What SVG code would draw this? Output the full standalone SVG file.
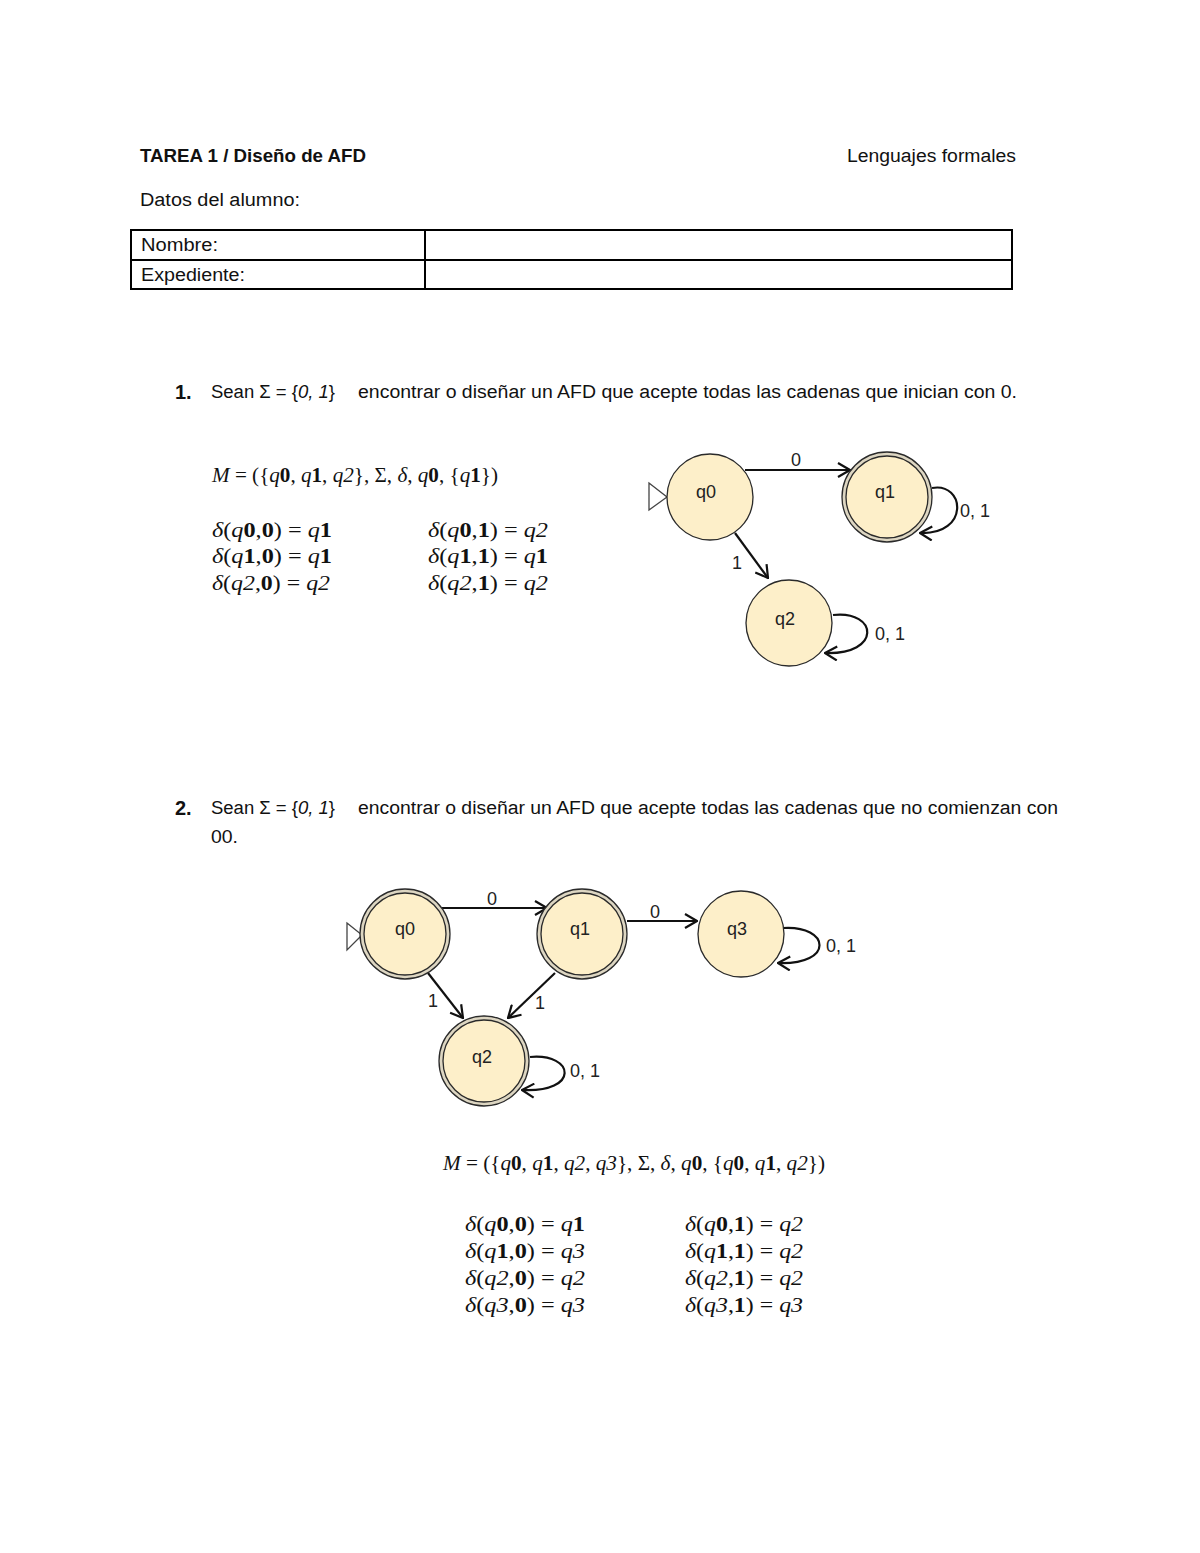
<svg xmlns="http://www.w3.org/2000/svg" width="1200" height="1553" viewBox="0 0 1200 1553">
<style>
.t{font-family:"Liberation Sans",Arial,sans-serif;font-size:18px;fill:#111}
.tb{font-family:"Liberation Sans",Arial,sans-serif;font-size:18px;font-weight:bold;fill:#111}
.num{font-family:"Liberation Sans",Arial,sans-serif;font-size:20px;font-weight:bold;fill:#111}
.m{font-family:"Liberation Serif","Times New Roman",serif;font-size:20px;fill:#111}
.i{font-style:italic}
.b{font-weight:bold}
.nl{font-family:"Liberation Sans",Arial,sans-serif;font-size:18px;fill:#222;text-anchor:middle}
.el{font-family:"Liberation Sans",Arial,sans-serif;font-size:18px;fill:#222}
.node{fill:#fdefc9;stroke:#2a2a2a;stroke-width:1.3}
.ring{fill:#ddd6c2;stroke:#2a2a2a;stroke-width:1.3}
.edge{fill:none;stroke:#111;stroke-width:2.2}
.init{fill:#fff;stroke:#444;stroke-width:1.3}
</style>
<defs>
<marker id="arr" viewBox="0 0 14 16" refX="13" refY="8" markerWidth="14" markerHeight="16" markerUnits="userSpaceOnUse" orient="auto">
<path d="M1,1 L13,8 L1,15" fill="none" stroke="#111" stroke-width="2.2"/>
</marker>
</defs>
<rect width="1200" height="1553" fill="#fff"/>

<g id="header">
<text class="tb" x="140" y="162" textLength="226" lengthAdjust="spacingAndGlyphs">TAREA 1 / Diseño de AFD</text>
<text class="t" x="847" y="162" textLength="169" lengthAdjust="spacingAndGlyphs">Lenguajes formales</text>
<text class="t" x="140" y="206" textLength="160" lengthAdjust="spacingAndGlyphs">Datos del alumno:</text>
</g>

<g id="table">
<rect x="131" y="230" width="881" height="59" fill="none" stroke="#000" stroke-width="2"/>
<line x1="131" y1="260" x2="1012" y2="260" stroke="#000" stroke-width="2"/>
<line x1="425" y1="230" x2="425" y2="289" stroke="#000" stroke-width="2"/>
<text class="t" x="141" y="251" textLength="77" lengthAdjust="spacingAndGlyphs">Nombre:</text>
<text class="t" x="141" y="281" textLength="104" lengthAdjust="spacingAndGlyphs">Expediente:</text>
</g>

<g id="q1-text">
<text class="num" x="175" y="399">1.</text>
<text class="t" x="211" y="398" textLength="124" lengthAdjust="spacingAndGlyphs">Sean Σ = {<tspan class="i">0, 1</tspan>}</text>
<text class="t" x="358" y="398" textLength="659" lengthAdjust="spacingAndGlyphs">encontrar o diseñar un AFD que acepte todas las cadenas que inician con 0.</text>
</g>

<g id="q1-math">
<text class="m" x="212" y="482" textLength="286" lengthAdjust="spacingAndGlyphs"><tspan class="i">M</tspan> = ({<tspan class="i">q</tspan><tspan class="b">0</tspan>, <tspan class="i">q</tspan><tspan class="b">1</tspan>, <tspan class="i">q2</tspan>}, Σ, <tspan class="i">δ</tspan>, <tspan class="i">q</tspan><tspan class="b">0</tspan>, {<tspan class="i">q</tspan><tspan class="b">1</tspan>})</text>
<text class="m" x="212" y="537" textLength="120" lengthAdjust="spacingAndGlyphs"><tspan class="i">δ</tspan>(<tspan class="i">q</tspan><tspan class="b">0</tspan>,<tspan class="b">0</tspan>) = <tspan class="i">q</tspan><tspan class="b">1</tspan></text>
<text class="m" x="428" y="537" textLength="120" lengthAdjust="spacingAndGlyphs"><tspan class="i">δ</tspan>(<tspan class="i">q</tspan><tspan class="b">0</tspan>,<tspan class="b">1</tspan>) = <tspan class="i">q2</tspan></text>
<text class="m" x="212" y="563" textLength="120" lengthAdjust="spacingAndGlyphs"><tspan class="i">δ</tspan>(<tspan class="i">q</tspan><tspan class="b">1</tspan>,<tspan class="b">0</tspan>) = <tspan class="i">q</tspan><tspan class="b">1</tspan></text>
<text class="m" x="428" y="563" textLength="120" lengthAdjust="spacingAndGlyphs"><tspan class="i">δ</tspan>(<tspan class="i">q</tspan><tspan class="b">1</tspan>,<tspan class="b">1</tspan>) = <tspan class="i">q</tspan><tspan class="b">1</tspan></text>
<text class="m" x="212" y="590" textLength="118" lengthAdjust="spacingAndGlyphs"><tspan class="i">δ</tspan>(<tspan class="i">q2</tspan>,<tspan class="b">0</tspan>) = <tspan class="i">q2</tspan></text>
<text class="m" x="428" y="590" textLength="120" lengthAdjust="spacingAndGlyphs"><tspan class="i">δ</tspan>(<tspan class="i">q2</tspan>,<tspan class="b">1</tspan>) = <tspan class="i">q2</tspan></text>
</g>

<g id="d1-edges">
<path class="edge" d="M745,470 L850,470" marker-end="url(#arr)"/>
<path class="edge" d="M735,533 L768,578" marker-end="url(#arr)"/>
<path class="edge" d="M932,488 C965,482 970,535 920,533" marker-end="url(#arr)"/>
<path class="edge" d="M833,615 C878,610 882,655 825,653" marker-end="url(#arr)"/>
<text class="el" x="791" y="466">0</text>
<text class="el" x="732" y="569">1</text>
<text class="el" x="960" y="517">0, 1</text>
<text class="el" x="875" y="640">0, 1</text>
</g>

<g id="d1-q0">
<polygon class="init" points="649,483 667,497 649,510"/>
<circle class="node" cx="710" cy="497" r="43"/>
<text class="nl" x="706" y="498">q0</text>
</g>
<g id="d1-q1">
<circle class="ring" cx="887" cy="497" r="45"/>
<circle class="node" cx="887" cy="497" r="41"/>
<text class="nl" x="885" y="498">q1</text>
</g>
<g id="d1-q2">
<circle class="node" cx="789" cy="623" r="43"/>
<text class="nl" x="785" y="625">q2</text>
</g>

<g id="q2-text">
<text class="num" x="175" y="815">2.</text>
<text class="t" x="211" y="814" textLength="124" lengthAdjust="spacingAndGlyphs">Sean Σ = {<tspan class="i">0, 1</tspan>}</text>
<text class="t" x="358" y="814" textLength="700" lengthAdjust="spacingAndGlyphs">encontrar o diseñar un AFD que acepte todas las cadenas que no comienzan con</text>
<text class="t" x="211" y="843" textLength="27" lengthAdjust="spacingAndGlyphs">00.</text>
</g>

<g id="d2-edges">
<path class="edge" d="M442,908 L547,908" marker-end="url(#arr)"/>
<path class="edge" d="M627,921 L697,921" marker-end="url(#arr)"/>
<path class="edge" d="M428,973 L463,1018" marker-end="url(#arr)"/>
<path class="edge" d="M555,973 L508,1018" marker-end="url(#arr)"/>
<path class="edge" d="M783,928 C830,925 835,965 778,963" marker-end="url(#arr)"/>
<path class="edge" d="M530,1057 C575,1053 580,1093 522,1090" marker-end="url(#arr)"/>
<text class="el" x="487" y="905">0</text>
<text class="el" x="650" y="918">0</text>
<text class="el" x="428" y="1007">1</text>
<text class="el" x="535" y="1009">1</text>
<text class="el" x="826" y="952">0, 1</text>
<text class="el" x="570" y="1077">0, 1</text>
</g>

<g id="d2-q0">
<polygon class="init" points="347,923 362,935 347,950"/>
<circle class="ring" cx="405" cy="934" r="45"/>
<circle class="node" cx="405" cy="934" r="41"/>
<text class="nl" x="405" y="935">q0</text>
</g>
<g id="d2-q1">
<circle class="ring" cx="582" cy="934" r="45"/>
<circle class="node" cx="582" cy="934" r="41"/>
<text class="nl" x="580" y="935">q1</text>
</g>
<g id="d2-q3">
<circle class="node" cx="741" cy="934" r="43"/>
<text class="nl" x="737" y="935">q3</text>
</g>
<g id="d2-q2">
<circle class="ring" cx="484" cy="1061" r="45"/>
<circle class="node" cx="484" cy="1061" r="41"/>
<text class="nl" x="482" y="1063">q2</text>
</g>

<g id="q2-math">
<text class="m" x="443" y="1170" textLength="382" lengthAdjust="spacingAndGlyphs"><tspan class="i">M</tspan> = ({<tspan class="i">q</tspan><tspan class="b">0</tspan>, <tspan class="i">q</tspan><tspan class="b">1</tspan>, <tspan class="i">q2</tspan>, <tspan class="i">q3</tspan>}, Σ, <tspan class="i">δ</tspan>, <tspan class="i">q</tspan><tspan class="b">0</tspan>, {<tspan class="i">q</tspan><tspan class="b">0</tspan>, <tspan class="i">q</tspan><tspan class="b">1</tspan>, <tspan class="i">q2</tspan>})</text>
<text class="m" x="465" y="1231" textLength="120" lengthAdjust="spacingAndGlyphs"><tspan class="i">δ</tspan>(<tspan class="i">q</tspan><tspan class="b">0</tspan>,<tspan class="b">0</tspan>) = <tspan class="i">q</tspan><tspan class="b">1</tspan></text>
<text class="m" x="685" y="1231" textLength="118" lengthAdjust="spacingAndGlyphs"><tspan class="i">δ</tspan>(<tspan class="i">q</tspan><tspan class="b">0</tspan>,<tspan class="b">1</tspan>) = <tspan class="i">q2</tspan></text>
<text class="m" x="465" y="1258" textLength="120" lengthAdjust="spacingAndGlyphs"><tspan class="i">δ</tspan>(<tspan class="i">q</tspan><tspan class="b">1</tspan>,<tspan class="b">0</tspan>) = <tspan class="i">q3</tspan></text>
<text class="m" x="685" y="1258" textLength="118" lengthAdjust="spacingAndGlyphs"><tspan class="i">δ</tspan>(<tspan class="i">q</tspan><tspan class="b">1</tspan>,<tspan class="b">1</tspan>) = <tspan class="i">q2</tspan></text>
<text class="m" x="465" y="1285" textLength="120" lengthAdjust="spacingAndGlyphs"><tspan class="i">δ</tspan>(<tspan class="i">q2</tspan>,<tspan class="b">0</tspan>) = <tspan class="i">q2</tspan></text>
<text class="m" x="685" y="1285" textLength="118" lengthAdjust="spacingAndGlyphs"><tspan class="i">δ</tspan>(<tspan class="i">q2</tspan>,<tspan class="b">1</tspan>) = <tspan class="i">q2</tspan></text>
<text class="m" x="465" y="1312" textLength="120" lengthAdjust="spacingAndGlyphs"><tspan class="i">δ</tspan>(<tspan class="i">q3</tspan>,<tspan class="b">0</tspan>) = <tspan class="i">q3</tspan></text>
<text class="m" x="685" y="1312" textLength="118" lengthAdjust="spacingAndGlyphs"><tspan class="i">δ</tspan>(<tspan class="i">q3</tspan>,<tspan class="b">1</tspan>) = <tspan class="i">q3</tspan></text>
</g>
</svg>
